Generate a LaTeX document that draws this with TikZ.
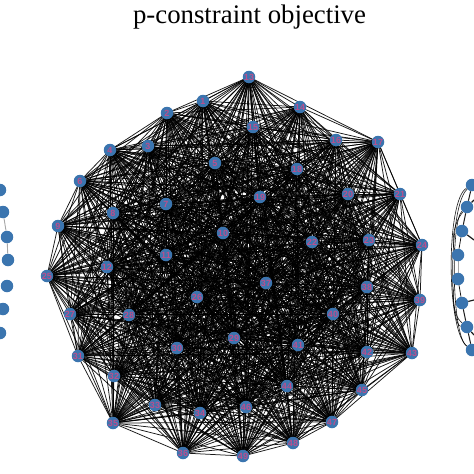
\documentclass[tikz,border=0pt]{standalone}
\usepackage{fontspec}
\setmainfont{Liberation Serif}
\newfontfamily\lblfont{Liberation Sans}
\definecolor{nodeblue}{HTML}{3B75AF}
\definecolor{lblpink}{HTML}{B8508E}
\pgfdeclarelayer{edgelayer}
\pgfsetlayers{edgelayer,main}
\begin{document}
\begin{tikzpicture}[x=1pt,y=-1pt,
  vtx/.style={circle,fill=nodeblue,draw=none,inner sep=0pt,minimum size=12.5pt,
    font=\lblfont\bfseries\fontsize{9}{9}\selectfont,text=lblpink},
  edge/.style={line width=0.75pt,draw=black,opacity=0.9},
  grayedge/.style={line width=0.9pt,draw=gray!70}]
\useasboundingbox (0,0) rectangle (474,474);
\node[font=\fontsize{26.8}{30}\selectfont,anchor=base] (title) at (249.5,23) {p-constraint objective};
% main graph nodes
\foreach \x/\y [count=\k] in {
 203/101,167/113,148/146,110/150,215/163,80/181,166/204,113/213,58/226,223/233,166/255,107/267,
 249/77,300/107,253/127,336/140,378/142,297/169,260/197,348/194,400/194,312/242,369/240,422/245,
 47/276,197/297,70/314,129/315,234/338,177/348,78/356,114/376,155/405,200/413,113/423,183/453,
 266/283,367/287,420/300,333/314,298/345,367/352,412/353,287/386,362/390,246/407,332/422,293/443,243/456}
 {\node[vtx] (n\k) at (\x,\y) {\k};}
\begin{pgfonlayer}{edgelayer}
\foreach \i in {1,...,49}{
  \foreach \j in {\i,...,49}{
    \ifnum\j>\i \draw[edge] (n\i.center) -- (n\j.center); \fi
  }
}
\end{pgfonlayer}
% left partial graph
\foreach \x/\y [count=\k] in {0/190,3/212,7/237,8/260,7/286,3/309,0/333}
 {\node[vtx] (l\k) at (\x,\y) {};}
\begin{pgfonlayer}{edgelayer}
\draw[grayedge] (l2) -- (l3);
\draw[grayedge] (l3) -- (l4);
\end{pgfonlayer}
% right partial graph
\foreach \x/\y [count=\k] in {472/185,467/207,462/231,458/255,458/279,462/303,467/327,472/350}
 {\node[vtx] (r\k) at (\x,\y) {};}
\coordinate (re1) at (474,200);
\coordinate (re2) at (474,240);
\coordinate (re3) at (474,300);
\coordinate (re4) at (474,335);
\begin{pgfonlayer}{edgelayer}
\draw[edge,line width=1pt] (r1) -- (r2);
\draw[edge,line width=1pt] (r2) -- (r3);
\draw[edge,line width=0.8pt] (r3) -- (r4);
\draw[grayedge] (r4) -- (r5);
\draw[edge,line width=0.8pt] (r5) -- (r6);
\draw[edge,line width=1pt] (r6) -- (r7);
\draw[edge,line width=1pt] (r7) -- (r8);
\draw[edge,line width=1.2pt] (r2) -- (re1);
\draw[edge,line width=1.2pt] (r3) -- (re2);
\draw[edge,line width=1.2pt] (r6) -- (re3);
\draw[edge,line width=1.2pt] (r7) -- (re4);
\draw[edge,line width=0.6pt] (r1) .. controls (446,200) and (446,330) .. (r8);
\draw[edge,line width=0.6pt] (r1) .. controls (449,205) and (449,325) .. (r7);
\draw[edge,line width=0.6pt] (r2) .. controls (451,220) and (451,335) .. (r8);
\draw[edge,line width=0.6pt] (r2) .. controls (452,225) and (452,245) .. (r4);
\draw[edge,line width=0.6pt] (r7) .. controls (452,315) and (452,290) .. (r5);
\end{pgfonlayer}
\end{tikzpicture}
\end{document}
